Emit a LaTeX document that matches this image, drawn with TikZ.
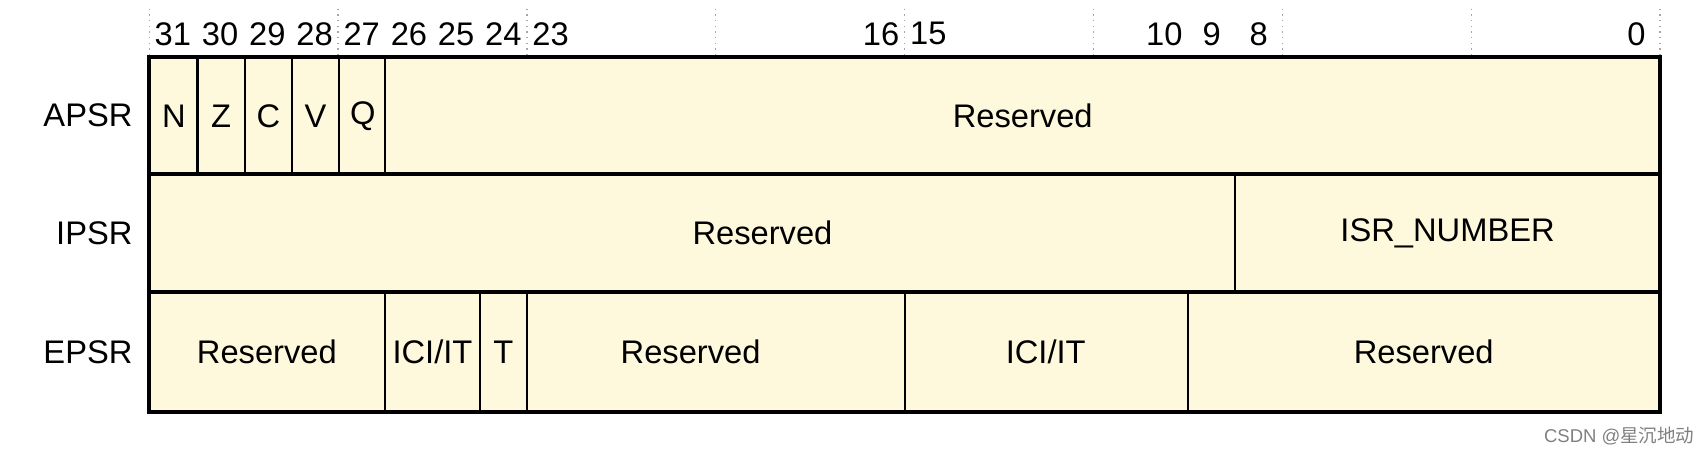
\documentclass[tikz,border=0pt]{standalone}
\usepackage{fontspec}
\setmainfont{Liberation Sans}
\newfontfamily\cjk{Noto Sans CJK SC}
\definecolor{cream}{HTML}{FEF9DC}
\begin{document}
\begin{tikzpicture}[x=0.5pt,y=-0.5pt,
    field/.style={draw=black, fill=cream, line width=1pt},
    lbl/.style={font=\fontsize{15}{17}\selectfont, inner sep=0pt},
    rowname/.style={lbl, anchor=east},
    tick/.style={gray!70, dotted, line width=0.6pt}]
  \useasboundingbox (0,0) rectangle (1568,418);
  % left edge of bit b
  \def\bx#1{137+(31-#1)*43.34375}
  % dotted guides every 4 bits
  \foreach \k in {0,...,8}
    \draw[tick] ({137+\k*173.375},8) -- ({137+\k*173.375},52);
  % bit numbers
  \foreach \b in {31,30,...,23,16,15,10,9,8,0}
    \node[lbl] (n\b) at ({\bx{\b}+21.7},31) {\b};
  % APSR
  \foreach \b/\t in {31/N,30/Z,29/C,28/V,27/Q}
    \node[field, minimum width=21.67pt, minimum height=54pt, inner sep=0pt, anchor=north west] (a\b) at ({\bx{\b}},52) {};
  \foreach \b/\t in {31/N,30/Z,29/C,28/V,27/Q}
    \node[lbl] at (a\b) {\t};
  \draw[field] ({\bx{26}},52) rectangle (1524,160);
  \node[lbl] (ares) at ({(\bx{26}+1524)/2},106) {Reserved};
  % IPSR
  \draw[field] (137,160) rectangle ({\bx{8}},268);
  \draw[field] ({\bx{8}},160) rectangle (1524,268);
  \node[lbl] (ires) at (700,214) {Reserved};
  \node[lbl] (isr) at ({(\bx{8}+1524)/2},214) {ISR\_NUMBER};
  % EPSR
  \foreach \l/\r/\t/\c [count=\i] in {31/26/Reserved/245,26/24/{ICI/IT}/397,24/23/T/462,23/15/Reserved/634,15/9/{ICI/IT}/960,9/-1/Reserved/1307}{
    \draw[field] ({\bx{\l}},268) rectangle ({\bx{\r}},378);
    \node[lbl] (e\i) at (\c,323) {\t};
  }
  % outer frame
  \draw[line width=1.8pt] (137,52) rectangle (1524,378);
  \draw[line width=1.8pt] (137,160) -- (1524,160) (137,268) -- (1524,268);
  % row names
  \node[rowname] (apsr) at (122,106) {APSR};
  \node[rowname] (ipsr) at (122,214) {IPSR};
  \node[rowname] (epsr) at (122,323) {EPSR};
  \node[font=\fontsize{8.5}{10}\selectfont, gray, anchor=east, inner sep=0pt] (wm) at (1556,400) {CSDN @{\cjk 星沉地动}};
\end{tikzpicture}
\end{document}
